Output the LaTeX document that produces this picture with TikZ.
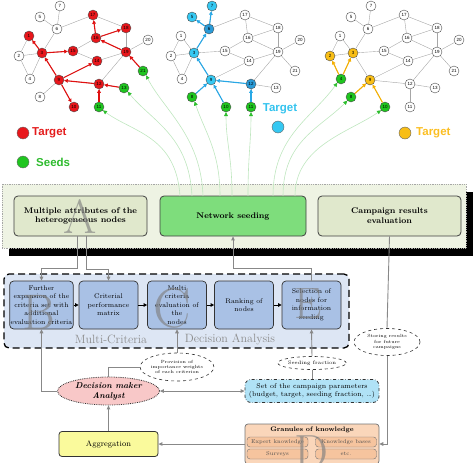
\documentclass[tikz,border=0pt]{standalone}
\usepackage{fontspec}
\setsansfont{Liberation Sans}
\usetikzlibrary{arrows.meta,shapes.geometric,calc}
\definecolor{rednode}{HTML}{E8161B}
\definecolor{greennode}{HTML}{1FC51F}
\definecolor{cyannode}{HTML}{35C8F2}
\definecolor{bluenode}{HTML}{2A9BD8}
\definecolor{orangenode}{HTML}{F8BE16}
\definecolor{redarrow}{HTML}{E01010}
\definecolor{bluearrow}{HTML}{28A8E6}
\definecolor{orangearrow}{HTML}{F5B000}
\definecolor{outerfill}{HTML}{EEF3E3}
\definecolor{olivefill}{HTML}{E0E8CC}
\definecolor{nsfill}{HTML}{7EDD7C}
\definecolor{mcdafill}{HTML}{DDE6F4}
\definecolor{bluebox}{HTML}{A9C1E5}
\definecolor{pinkfill}{HTML}{F8C8C8}
\definecolor{paramfill}{HTML}{B0E2F6}
\definecolor{yellowfill}{HTML}{FAFA9C}
\definecolor{granfill}{HTML}{FAD6BA}
\definecolor{graninner}{HTML}{F6C49E}
\definecolor{seedline}{HTML}{BFE6BF}
\definecolor{seedtip}{HTML}{2DBE2D}
\definecolor{linegray}{HTML}{888888}
\definecolor{textgray}{HTML}{8C8C8C}
\definecolor{legred}{HTML}{E31B1B}
\definecolor{leggreen}{HTML}{2EBB2E}
\definecolor{legcyan}{HTML}{33C3EE}
\definecolor{legorange}{HTML}{FBBE22}
\begin{document}
\begin{tikzpicture}[x=1pt,y=-1pt,
  gn/.style={circle,draw=black!70,line width=0.4pt,minimum size=10pt,inner sep=0pt,fill=white,font=\fontsize{4.5}{5}\sffamily},
  ge/.style={draw=black!35,line width=0.4pt},
  carr/.style={line width=1.1pt,-{Triangle[length=3.6pt,width=3.6pt]}},
  seedarr/.style={draw=seedline,line width=0.6pt,-{Triangle[length=4pt,width=3.8pt,color=seedtip]}},
  legc/.style={circle,draw=black!60,line width=0.4pt,minimum size=12pt,inner sep=0pt},
  legt/.style={font=\fontsize{11.5}{12}\sffamily\bfseries,inner sep=0pt},
  topbox/.style={draw=black!75,line width=0.8pt,rounded corners=4pt,minimum height=40pt,align=center,font=\fontsize{8.2}{9.8}\selectfont\bfseries,inner sep=0pt},
  bbox/.style={draw=black!80,line width=0.7pt,rounded corners=4pt,fill=bluebox,minimum width=59pt,minimum height=48pt,inner sep=1pt,align=center,font=\fontsize{6.8}{8.5}\selectfont},
  barr/.style={draw=black,line width=0.8pt,-{Triangle[length=3.5pt,width=3.5pt]}},
  gline/.style={draw=linegray,line width=0.9pt},
  garr/.style={draw=linegray,line width=0.9pt,-{Triangle[length=4pt,width=3.6pt]}},
  gdarr/.style={draw=linegray,line width=0.9pt,{Triangle[length=4pt,width=3.6pt]}-{Triangle[length=4pt,width=3.6pt]}},
  ell/.style={ellipse,draw=black!80,dashed,line width=0.6pt,inner sep=0pt,align=center,fill=white,font=\fontsize{4.5}{5.2}\selectfont},
  wm/.style={text=gray,opacity=0.65,inner sep=0pt},
  mtext/.style={text=textgray,font=\fontsize{12}{13}\selectfont,inner sep=0pt},
  ginner/.style={draw=black!55,fill=graninner,rounded corners=3pt,minimum width=61pt,minimum height=10pt,inner sep=0pt,font=\fontsize{5.5}{6}\selectfont,text=black!70}
]
\useasboundingbox (0,0) rectangle (474,463);

% ---------- graphs ----------
\foreach \g/\dx in {1/0,2/152,3/311}{
  \foreach \i/\x/\y in {1/29/36,2/19/56,3/42/53,4/30/79,5/40/17,6/57/29,7/60/6,8/40/97,9/59/80,10/74/107,11/99/107,12/99/84,13/124/88,14/97/61,15/73/51,16/96/38,17/93/15,18/126/28,19/126/52,20/148/40,21/143/71}
    \coordinate (p\g-\i) at (\x+\dx,\y);
}
% graph 1
\foreach \i in {1,3,9,10,12,14,15,16,17,18,19} \node[gn,fill=rednode] (g1-\i) at (p1-\i) {\i};
\foreach \i in {11,13,21} \node[gn,fill=greennode] (g1-\i) at (p1-\i) {\i};
\foreach \i in {2,4,5,6,7,8,20} \node[gn] (g1-\i) at (p1-\i) {\i};
% graph 2
\foreach \i in {3,5,7,9} \node[gn,fill=cyannode] (g2-\i) at (p2-\i) {\i};
\foreach \i in {6,12} \node[gn,fill=bluenode] (g2-\i) at (p2-\i) {\i};
\foreach \i in {8,10,11} \node[gn,fill=greennode] (g2-\i) at (p2-\i) {\i};
\foreach \i in {1,2,4,13,14,15,16,17,18,19,20,21} \node[gn] (g2-\i) at (p2-\i) {\i};
% graph 3
\foreach \i in {2,3,9} \node[gn,fill=orangenode] (g3-\i) at (p3-\i) {\i};
\foreach \i in {4,8,10} \node[gn,fill=greennode] (g3-\i) at (p3-\i) {\i};
\foreach \i in {1,5,6,7,11,12,13,14,15,16,17,18,19,20,21} \node[gn] (g3-\i) at (p3-\i) {\i};
% edges
\foreach \g in {1,2,3}{
  \foreach \a/\b in {1/2,1/3,2/3,2/4,3/4,3/6,5/6,6/7,6/17,3/15,3/9,8/9,9/10,9/14,9/12,12/13,11/12,12/19,14/19,14/15,15/16,16/17,16/18,16/19,17/18,18/19,19/20,19/21}
    \draw[ge] (g\g-\a) -- (g\g-\b);
}
\foreach \a/\b in {3/1,3/15,9/3,9/14,9/10,12/9,13/12,11/12,21/19,19/16,16/17,16/18}
  \draw[carr,draw=redarrow,color=redarrow] (g1-\a) -- (g1-\b);
\foreach \a/\b in {3/6,6/5,6/7,9/3,8/9,10/9,12/9,11/12}
  \draw[carr,draw=bluearrow,color=bluearrow] (g2-\a) -- (g2-\b);
\foreach \a/\b in {4/2,4/3,8/9,10/9}
  \draw[carr,draw=orangearrow,color=orangearrow] (g3-\a) -- (g3-\b);

% legends
\node[legc,fill=rednode] (lr) at (23,133) {};
\node[legt,text=legred,anchor=west] (lrt) at (32,133) {Target};
\node[legc,fill=greennode] (lg) at (23,162) {};
\node[legt,text=leggreen,anchor=west] (lgt) at (36,162) {Seeds};
\node[legt,text=legcyan] (lct) at (280,109) {Target};
\node[legc,fill=cyannode] (lc) at (278,127) {};
\node[legc,fill=orangenode] (lo) at (405,133) {};
\node[legt,text=legorange,anchor=west] (lot) at (416,133) {Target};

% ---------- top band ----------
\fill[black] (9,192) rectangle (473,256);
\node[draw=gray!70,densely dotted,line width=0.8pt,fill=outerfill,minimum width=464pt,minimum height=64pt,inner sep=0pt] (outer) at (234,216) {};
\node[topbox,fill=olivefill,minimum width=133pt] (abox) at (80.5,216) {Multiple attributes of the\\heterogeneous nodes};
\node[topbox,fill=nsfill,minimum width=146pt] (ns) at (233,216) {Network seeding};
\node[topbox,fill=olivefill,minimum width=143pt] (cre) at (389.5,216) {Campaign results\\evaluation};
\node[wm,font=\fontsize{48}{48}\selectfont] (wA) at (80,217) {A};

% seed curves
\coordinate (s1) at (180,196);
\coordinate (s2) at (192,196);
\coordinate (s3) at (203,196);
\coordinate (s4) at (220,196);
\coordinate (s5) at (232,196);
\coordinate (s6) at (248,196);
\coordinate (s7) at (273,196);
\coordinate (s8) at (283,196);
\coordinate (s9) at (295,196);
\draw[seedarr] (s1) .. controls +(-4,-60) and +(30,22) .. (g1-11.-40);
\draw[seedarr] (s2) .. controls +(-3,-60) and +(25,30) .. (g1-13.-45);
\draw[seedarr] (s3) .. controls +(-2,-60) and +(18,35) .. (g1-21.-55);
\draw[seedarr] (s4) .. controls +(0,-45) and +(10,30) .. (g2-8.-60);
\draw[seedarr] (s5) .. controls +(0,-40) and +(0,30) .. (g2-10.south);
\draw[seedarr] (s6) .. controls +(0,-40) and +(0,30) .. (g2-11.south);
\draw[seedarr] (s7) .. controls +(0,-60) and +(-25,35) .. (g3-4.-135);
\draw[seedarr] (s8) .. controls +(0,-55) and +(-28,28) .. (g3-8.-135);
\draw[seedarr] (s9) .. controls +(0,-50) and +(-32,22) .. (g3-10.-140);

% ---------- MCDA ----------
\node[draw=black,line width=1.3pt,dash pattern=on 7pt off 4pt,rounded corners=5pt,fill=mcdafill,minimum width=345pt,minimum height=74pt,inner sep=0pt] (mcda) at (176.5,311) {};
\node[mtext] (mc1) at (111,339) {Multi-Criteria};
\node[mtext] (mc2) at (230,339) {Decision Analysis};
\node[bbox] (b1) at (41.5,305) {Further\\expansion of the\\criteria set with\\additional\\evaluation criteria};
\node[bbox] (b2) at (108.5,305) {Criterial\\performance\\matrix};
\node[bbox] (b3) at (177,305) {Multi\\criteria\\evaluation of\\the\\nodes};
\node[bbox] (b4) at (244,305) {Ranking of\\nodes};
\node[bbox] (b5) at (311.5,305) {Selection of\\nodes for\\information\\seeding};
\node[wm,font=\fontsize{50}{50}\selectfont] (wB) at (38.5,312) {B};
\node[wm,font=\fontsize{56}{56}\selectfont] (wC) at (172,308) {C};
\node[wm,font=\fontsize{44}{44}\selectfont] (wE) at (308.5,304) {E};
\draw[barr] (b1) -- (b2);
\draw[barr] (b2) -- (b3);
\draw[barr] (b3) -- (b4);
\draw[barr] (b4) -- (b5);

% connectors from top band
\coordinate (j1) at (41.5,268);
\coordinate (j2) at (108.5,269);
\coordinate (j3) at (233,268);
\draw[garr] ([xshift=-3.5pt]abox.south) |- (j1) -- (b1.north);
\draw[garr] ([xshift=5.5pt]abox.south) |- (j2) -- (b2.north);
\draw[garr] (b5.north) |- (j3) -- (ns.south);

% ---------- lower part ----------
\node[ell,minimum width=66pt,minimum height=27pt] (st) at (387,342) {Storing results\\for future\\campaigns};
\node[ell,minimum width=67pt,minimum height=28pt] (prov) at (177,367) {Provision of\\importance weights\\of each criterion};
\node[ell,minimum width=57pt,minimum height=13pt,font=\fontsize{5}{6}\selectfont] (sf) at (312,363) {Seeding fraction};
\node[ellipse,draw=black!80,densely dotted,line width=0.8pt,fill=pinkfill,minimum width=102pt,minimum height=28pt,inner sep=0pt,align=center,font=\fontsize{8.5}{10}\selectfont\bfseries\itshape] (dm) at (108.5,391) {Decision maker\\Analyst};
\node[draw=black!80,dash dot,line width=0.8pt,rounded corners=6pt,fill=paramfill,minimum width=134pt,minimum height=23pt,inner sep=0pt,align=center,font=\fontsize{7}{8.5}\selectfont] (par) at (312,391) {Set of the campaign parameters\\(budget, target, seeding fraction, \dots)};
\node[draw=black!80,line width=0.8pt,rounded corners=3pt,fill=yellowfill,minimum width=99pt,minimum height=25pt,inner sep=0pt,font=\fontsize{8}{9}\selectfont] (agg) at (108.5,444) {Aggregation};
\node[draw=black!55,line width=0.7pt,rounded corners=3pt,fill=granfill,minimum width=134pt,minimum height=40pt,inner sep=0pt] (gran) at (312,444) {};
\node[font=\fontsize{6.5}{7}\selectfont\bfseries,inner sep=0pt] (gt) at (312,430) {Granules of knowledge};
\node[ginner] (ek) at (277.5,442) {Expert knowledge};
\node[ginner] (kb) at (346,442) {Knowledge bases};
\node[ginner] (sv) at (277.5,454) {Surveys};
\node[ginner] (etc) at (346,454) {etc.};
\node[wm,font=\fontsize{48}{48}\selectfont] (wD) at (311,452) {D};

\draw[gline] (cre.south) -- (st.north);
\draw[garr] (st.south) |- (gran.east);
\draw[garr] (dm.west) -| (b1.south);
\draw[gline] (dm.north) |- (prov.west);
\draw[garr] (prov.north) -- (b3.south);
\draw[gdarr] (dm.east) -- (par.west);
\draw[gline] (par.north) -- (sf.south);
\draw[garr] (sf.north) -- (b5.south);
\draw[garr] (agg.north) -- (dm.south);
\draw[garr] (gran.west) -- (agg.east);
\end{tikzpicture}
\end{document}
